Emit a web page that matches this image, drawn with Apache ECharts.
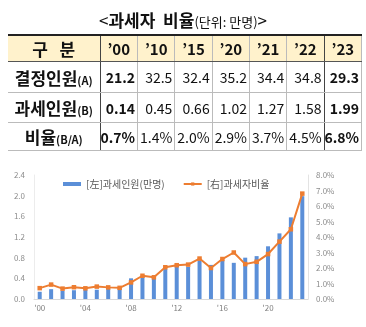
<!DOCTYPE html>
<html>
<head>
<meta charset="utf-8">
<script src="https://cdn.jsdelivr.net/npm/echarts@6/dist/echarts.min.js"></script>
<style>
  html, body { margin:0; padding:0; background:#fff; }
  body { width:366px; height:327px; position:relative; overflow:hidden; font-family:"Noto Sans CJK KR", sans-serif; }
  #chart { position:absolute; left:0; top:0; width:366px; height:327px; }
  #title { position:absolute; left:0; top:8px; width:366px; text-align:center; font-size:17px; color:#111; line-height:24px; z-index:2; }
  #title b { font-weight:700; }
  #title i { font-style:normal; font-weight:400; }
  #title span { font-size:13px; }
  table { position:absolute; left:8px; top:34px; border-collapse:collapse; table-layout:fixed; z-index:2; color:#111; }
  td { padding:0; white-space:nowrap; overflow:visible; }
  thead td { background:#fff2cc; height:24px; font-weight:700; font-size:15px; text-align:center; border-top:2px solid #222; border-bottom:1.5px solid #555; border-right:1px solid #bbb; }
  tbody td { font-size:14px; text-align:right; padding-right:2px; border-bottom:1px solid #bbb; border-right:1px solid #bbb; }
  td.lab { text-align:center; font-weight:700; font-size:17px; border-right:1.5px solid #444; padding-right:0; }
  td.lab small { font-size:11px; font-weight:700; }
  td.b { font-weight:700; }
  td.pre { border-right:1.5px solid #444; }
</style>
</head>
<body>
<div id="chart"></div>
<div id="title"><i>&lt;</i><b>과세자&nbsp; 비율</b><span>(단위: 만명)</span><i>&gt;</i></div>
<table id="tbl"></table>
<script>
// ---- table data ----
const tableYears = ["’00","’10","’15","’20","’21","’22","’23"];
const rowLabels = ["결정인원", "과세인원", "비율"];
const rowUnits = ["(A)", "(B)", "(B/A)"];
const decidedA = ["21.2","32.5","32.4","35.2","34.4","34.8","29.3"];
const taxedB = ["0.14","0.45","0.66","1.02","1.27","1.58","1.99"];
const rateBA = ["0.7%","1.4%","2.0%","2.9%","3.7%","4.5%","6.8%"];
const boldCols = [0, 6];

// ---- chart data ----
const years = ["'00","'01","'02","'03","'04","'05","'06","'07","'08","'09","'10","'11",
               "'12","'13","'14","'15","'16","'17","'18","'19","'20","'21","'22","'23"];
const taxpayers = [0.14,0.19,0.16,0.17,0.18,0.18,0.20,0.21,0.40,0.45,0.45,0.58,
                   0.64,0.62,0.75,0.66,0.75,0.70,0.80,0.83,1.02,1.27,1.58,1.99];
const taxRatio = [0.7,0.93,0.67,0.76,0.69,0.8,0.75,0.72,1.07,1.5,1.4,2.05,
                  2.18,2.22,2.61,2.0,2.58,3.0,2.25,2.4,2.9,3.7,4.5,6.8];
const leftTicks = {min:0, max:2.4, interval:0.4};
const rightTicks = {min:0, max:8, interval:1};
const seriesNames = ["[左]과세인원(만명)", "[右]과세자비율"];

// build table
(function(){
  const t = document.getElementById('tbl');
  let h = '<colgroup><col style="width:92px">';
  for (let i=0;i<tableYears.length;i++) h += '<col style="width:37.3px">';
  h += '</colgroup><thead><tr><td class="lab" style="font-size:17px;letter-spacing:0">구&nbsp;&nbsp;&nbsp;분</td>';
  tableYears.forEach((y,i)=>{ h += '<td' + (i===5?' class="pre"':'') + '>' + y + '</td>'; });
  h += '</tr></thead><tbody>';
  const rows = [decidedA, taxedB, rateBA];
  const heights = [31, 30, 28];
  rows.forEach((r,ri)=>{
    h += '<tr style="height:'+heights[ri]+'px"><td class="lab">' + rowLabels[ri] + '<small>' + rowUnits[ri] + '</small></td>';
    r.forEach((v,i)=>{
      const cls = [];
      if (boldCols.includes(i)) cls.push('b');
      if (i===5) cls.push('pre');
      h += '<td class="' + cls.join(' ') + '">' + v + '</td>';
    });
    h += '</tr>';
  });
  h += '</tbody>';
  t.innerHTML = h;
})();

const chart = echarts.init(document.getElementById('chart'), null, {renderer:'canvas'});
chart.setOption({
  animation: false,
  textStyle: { fontFamily: '"Noto Sans CJK KR", sans-serif' },
  legend: {
    top: 174, left: 58, itemGap: 18, itemWidth: 18, itemHeight: 4,
    textStyle: { fontSize: 10, color: '#595959' },
    data: [
      { name: seriesNames[0], icon: 'rect' },
      { name: seriesNames[1] }
    ]
  },
  grid: { left: 34, right: 58, top: 175, bottom: 28 },
  xAxis: {
    type: 'category', data: years,
    axisTick: { show: false },
    axisLine: { lineStyle: { color: '#d9d9d9' } },
    axisLabel: { interval: 3, fontSize: 8, color: '#7f7f7f', margin: 5 }
  },
  yAxis: [
    { type: 'value', min: leftTicks.min, max: leftTicks.max, interval: leftTicks.interval,
      splitLine: { show: false },
      axisLine: { show: true, lineStyle: { color: '#ececec' } },
      axisLabel: { fontSize: 8, color: '#8c8c8c', margin: 9, formatter: v => v.toFixed(1) } },
    { type: 'value', min: rightTicks.min, max: rightTicks.max, interval: rightTicks.interval,
      splitLine: { show: false },
      axisLine: { show: true, lineStyle: { color: '#e3e3e3' } },
      axisLabel: { fontSize: 8, color: '#8c8c8c', margin: 8, formatter: v => v.toFixed(1) + '%' } }
  ],
  series: [
    { name: seriesNames[0], type: 'bar', data: taxpayers, barWidth: 4,
      itemStyle: { color: '#5b8fd8' } },
    { name: seriesNames[1], type: 'line', yAxisIndex: 1, data: taxRatio,
      symbol: 'rect', symbolSize: 4.5, lineStyle: { width: 2, color: '#ed7d31' },
      itemStyle: { color: '#ed7d31' } }
  ]
});
</script>
</body>
</html>
